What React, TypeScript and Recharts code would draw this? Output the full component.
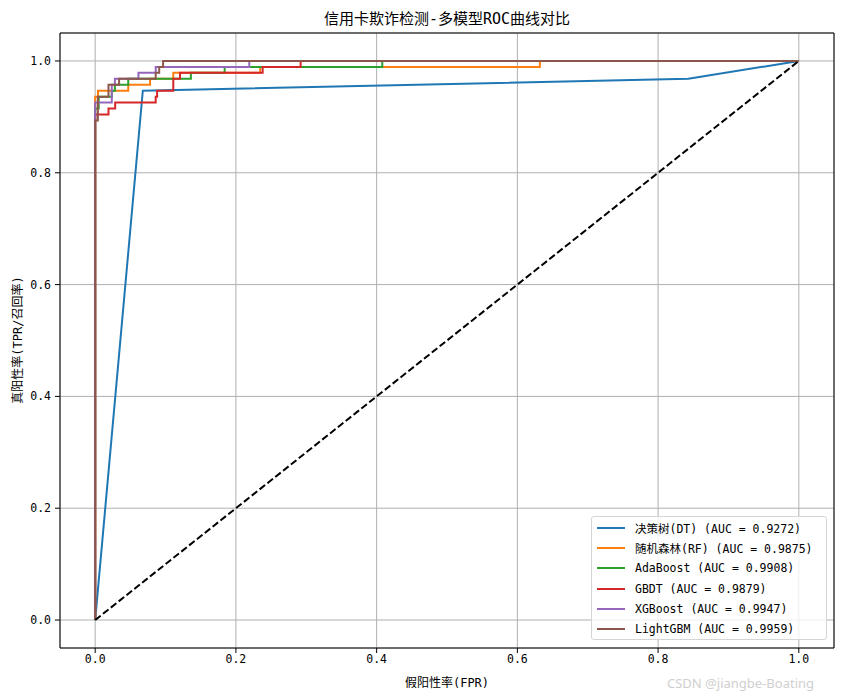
import React from "react";
import {
  LineChart,
  Line,
  XAxis,
  YAxis,
  CartesianGrid,
  ReferenceLine,
} from "recharts";

// ROC points (fpr / tpr)
const dtFpr = [0, 0.0677, 0.843, 1];
const dtTpr = [0, 0.9468, 0.9681, 1];

const rfFpr = [0, 0, 0.004, 0.004, 0.047, 0.047, 0.078, 0.078, 0.111, 0.111, 0.2345, 0.2345, 0.632, 0.632, 1];
const rfTpr = [0, 0.936, 0.936, 0.9468, 0.9468, 0.9574, 0.9574, 0.9681, 0.9681, 0.9787, 0.9787, 0.9894, 0.9894, 1, 1];

const adaFpr = [0, 0, 0.005, 0.005, 0.0236, 0.0236, 0.028, 0.028, 0.047, 0.047, 0.136, 0.136, 0.184, 0.184, 0.408, 0.408, 1];
const adaTpr = [0, 0.9149, 0.9149, 0.936, 0.936, 0.9468, 0.9468, 0.9574, 0.9574, 0.9681, 0.9681, 0.9787, 0.9787, 0.9894, 0.9894, 1, 1];

const gbdtFpr = [0, 0, 0.0189, 0.0189, 0.0284, 0.0284, 0.086, 0.086, 0.088, 0.088, 0.111, 0.111, 0.1206, 0.1206, 0.238, 0.238, 0.292, 0.292, 1];
const gbdtTpr = [0, 0.9043, 0.9043, 0.9149, 0.9149, 0.9255, 0.9255, 0.936, 0.936, 0.9468, 0.9468, 0.9681, 0.9681, 0.9787, 0.9787, 0.9894, 0.9894, 1, 1];

const xgbFpr = [0, 0, 0.0236, 0.0236, 0.028, 0.028, 0.0615, 0.0615, 0.086, 0.086, 0.219, 0.219, 1];
const xgbTpr = [0, 0.9255, 0.9255, 0.9574, 0.9574, 0.9681, 0.9681, 0.9787, 0.9787, 0.9894, 0.9894, 1, 1];

const lgbFpr = [0, 0, 0.0038, 0.0038, 0.0189, 0.0189, 0.034, 0.034, 0.086, 0.086, 0.091, 0.091, 0.0965, 0.0965, 1];
const lgbTpr = [0, 0.8936, 0.8936, 0.936, 0.936, 0.9574, 0.9574, 0.9681, 0.9681, 0.9787, 0.9787, 0.9894, 0.9894, 1, 1];

const chanceFpr = [0, 1];
const chanceTpr = [0, 1];

const modelNames = ["决策树(DT)", "随机森林(RF)", "AdaBoost", "GBDT", "XGBoost", "LightGBM"];
const aucScores = [0.9272, 0.9875, 0.9908, 0.9879, 0.9947, 0.9959];
const colors = ["#1f77b4", "#ff7f0e", "#2ca02c", "#d62728", "#9467bd", "#8c564b"];
const axisTicks = [0, 0.2, 0.4, 0.6, 0.8, 1.0];

const zip = (xs: number[], ys: number[]) => xs.map((x, i) => ({ x, y: ys[i] }));

const curves = [
  zip(dtFpr, dtTpr),
  zip(rfFpr, rfTpr),
  zip(adaFpr, adaTpr),
  zip(gbdtFpr, gbdtTpr),
  zip(xgbFpr, xgbTpr),
  zip(lgbFpr, lgbTpr),
];

const FONT = "'DejaVu Sans Mono', 'Noto Sans CJK SC', monospace";

export default function App() {
  return (
    <div style={{ position: "absolute", left: 0, top: 0, width: 844, height: 698, background: "#fff", fontFamily: FONT }}>
      <div style={{ position: "absolute", left: 60, width: 774, top: 7, textAlign: "center", fontSize: 15, color: "#000" }}>
        信用卡欺诈检测-多模型ROC曲线对比
      </div>
      <LineChart width={844} height={698} margin={{ top: 33, right: 10, bottom: 0, left: 0 }}>
        <CartesianGrid stroke="#b0b0b0" strokeWidth={1} />
        <XAxis
          type="number"
          dataKey="x"
          domain={[-0.05, 1.05]}
          ticks={axisTicks}
          allowDataOverflow
          height={50}
          tickSize={5}
          tickFormatter={(v: number) => v.toFixed(1)}
          tick={{ fill: "#000", fontSize: 11.5, fontFamily: FONT }}
          stroke="#000"
        />
        <YAxis
          type="number"
          dataKey="y"
          domain={[-0.05, 1.05]}
          ticks={axisTicks}
          allowDataOverflow
          width={60}
          tickSize={5}
          tickMargin={4}
          tickFormatter={(v: number) => v.toFixed(1)}
          tick={{ fill: "#000", fontSize: 11.5, fontFamily: FONT }}
          stroke="#000"
        />
        <ReferenceLine y={1.05} stroke="#000" />
        <ReferenceLine x={1.05} stroke="#000" />
        {curves.map((c, i) => (
          <Line
            key={modelNames[i]}
            data={c}
            dataKey="y"
            type="linear"
            stroke={colors[i]}
            strokeWidth={2}
            dot={false}
            activeDot={false}
            isAnimationActive={false}
          />
        ))}
        <Line
          data={zip(chanceFpr, chanceTpr)}
          dataKey="y"
          type="linear"
          stroke="#000"
          strokeWidth={2}
          strokeDasharray="7 3"
          dot={false}
          activeDot={false}
          isAnimationActive={false}
        />
      </LineChart>
      <div style={{ position: "absolute", left: 60, width: 774, top: 673, textAlign: "center", fontSize: 12, color: "#000" }}>
        假阳性率(FPR)
      </div>
      <div
        style={{
          position: "absolute",
          left: 16,
          top: 340,
          transform: "translate(-50%, -50%) rotate(-90deg)",
          whiteSpace: "nowrap",
          fontSize: 12,
          color: "#000",
        }}
      >
        真阳性率(TPR/召回率)
      </div>
      <div
        style={{
          position: "absolute",
          left: 591,
          top: 516,
          width: 236,
          height: 124,
          boxSizing: "border-box",
          border: "1px solid #d5d5d5",
          borderRadius: 3,
          background: "rgba(255,255,255,0.8)",
          padding: "1px 0 0 5px",
        }}
      >
        {modelNames.map((name, i) => (
          <div key={name} style={{ display: "flex", alignItems: "center", height: 20.2, fontSize: 11.5, color: "#000", whiteSpace: "nowrap" }}>
            <span style={{ display: "inline-block", width: 28, height: 2, background: colors[i], marginRight: 10 }} />
            {`${name} (AUC = ${aucScores[i].toFixed(4)})`}
          </div>
        ))}
      </div>
      <div style={{ position: "absolute", left: 667, top: 674, fontSize: 13, color: "#cfcfcf", fontFamily: "'Noto Sans', sans-serif" }}>
        CSDN @jiangbe-Boating
      </div>
    </div>
  );
}
